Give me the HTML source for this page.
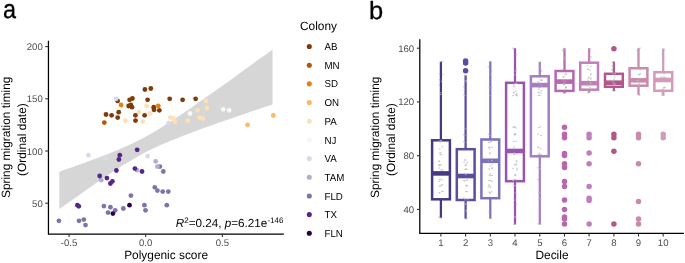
<!DOCTYPE html>
<html><head><meta charset="utf-8"><title>Figure</title>
<style>html,body{margin:0;padding:0;background:#fff}svg{display:block}svg text{font-family:"Liberation Sans",sans-serif;text-rendering:geometricPrecision}</style></head>
<body>
<svg width="685" height="263" viewBox="0 0 685 263">
<rect width="685" height="263" fill="#fff"/>
<text transform="translate(2.9,18.1) scale(0.9,1.0)" font-size="26" fill="#000" stroke="#000" stroke-width="0.3">a</text>
<polygon fill="#d6d6d6" points="59.3,171.7 64.6,169.8 70.0,168.0 75.3,166.1 80.6,164.2 85.9,162.3 91.3,160.3 96.6,158.3 101.9,156.3 107.3,154.2 112.6,152.1 117.9,149.9 123.3,147.6 128.6,145.2 133.9,142.7 139.2,140.0 144.6,137.2 149.9,134.3 155.2,131.2 160.6,127.9 165.9,124.6 171.2,121.2 176.6,117.6 181.9,114.1 187.2,110.4 192.6,106.8 197.9,103.1 203.2,99.3 208.5,95.6 213.9,91.8 219.2,88.0 224.5,84.2 229.9,80.4 235.2,76.5 240.5,72.7 245.9,68.8 251.2,65.0 256.5,61.1 261.8,57.3 267.2,53.4 272.5,49.5 272.5,104.4 267.2,106.2 261.8,108.0 256.5,109.8 251.2,111.6 245.9,113.4 240.5,115.3 235.2,117.1 229.9,118.9 224.5,120.8 219.2,122.6 213.9,124.5 208.5,126.4 203.2,128.3 197.9,130.3 192.6,132.2 187.2,134.2 181.9,136.3 176.6,138.4 171.2,140.5 165.9,142.8 160.6,145.1 155.2,147.5 149.9,150.1 144.6,152.8 139.2,155.7 133.9,158.7 128.6,161.9 123.3,165.1 117.9,168.5 112.6,172.0 107.3,175.5 101.9,179.1 96.6,182.8 91.3,186.5 85.9,190.2 80.6,193.9 75.3,197.7 70.0,201.5 64.6,205.3 59.3,209.1"/>
<circle cx="101.2" cy="180.2" r="2.4" fill="#b2abd2"/>
<circle cx="136.9" cy="170.1" r="2.4" fill="#b2abd2"/>
<circle cx="155.7" cy="161.3" r="2.4" fill="#b2abd2"/>
<circle cx="159.9" cy="166.6" r="2.4" fill="#8073ac"/>
<circle cx="157.4" cy="166.6" r="2.4" fill="#b2abd2"/>
<circle cx="163.3" cy="171.5" r="2.4" fill="#8073ac"/>
<circle cx="130.9" cy="195.6" r="2.4" fill="#8073ac"/>
<circle cx="103.9" cy="206.1" r="2.4" fill="#8073ac"/>
<circle cx="110.4" cy="207.2" r="2.4" fill="#8073ac"/>
<circle cx="115.2" cy="210.3" r="2.4" fill="#8073ac"/>
<circle cx="108.0" cy="212.6" r="2.4" fill="#8073ac"/>
<circle cx="123.3" cy="208.5" r="2.4" fill="#8073ac"/>
<circle cx="58.9" cy="220.8" r="2.4" fill="#8073ac"/>
<circle cx="79.0" cy="220.8" r="2.4" fill="#8073ac"/>
<circle cx="83.8" cy="219.6" r="2.4" fill="#8073ac"/>
<circle cx="85.5" cy="225.1" r="2.4" fill="#8073ac"/>
<circle cx="154.8" cy="187.3" r="2.4" fill="#8073ac"/>
<circle cx="157.4" cy="190.6" r="2.4" fill="#8073ac"/>
<circle cx="162.7" cy="191.6" r="2.4" fill="#8073ac"/>
<circle cx="168.3" cy="191.6" r="2.4" fill="#8073ac"/>
<circle cx="144.4" cy="205.2" r="2.4" fill="#8073ac"/>
<circle cx="145.5" cy="210.3" r="2.4" fill="#8073ac"/>
<circle cx="166.8" cy="205.2" r="2.4" fill="#8073ac"/>
<circle cx="112.9" cy="213.6" r="2.4" fill="#2d004b"/>
<circle cx="129.5" cy="205.2" r="2.4" fill="#2d004b"/>
<circle cx="119.8" cy="155.2" r="2.4" fill="#542788"/>
<circle cx="118.9" cy="159.5" r="2.4" fill="#542788"/>
<circle cx="116.4" cy="170.5" r="2.4" fill="#542788"/>
<circle cx="99.7" cy="176.0" r="2.4" fill="#542788"/>
<circle cx="106.9" cy="178.1" r="2.4" fill="#542788"/>
<circle cx="112.4" cy="181.3" r="2.4" fill="#542788"/>
<circle cx="110.4" cy="183.5" r="2.4" fill="#542788"/>
<circle cx="77.4" cy="205.2" r="2.4" fill="#542788"/>
<circle cx="78.8" cy="206.3" r="2.4" fill="#542788"/>
<circle cx="137.2" cy="149.8" r="2.4" fill="#542788"/>
<circle cx="134.9" cy="168.6" r="2.4" fill="#542788"/>
<circle cx="142.0" cy="171.5" r="2.4" fill="#542788"/>
<circle cx="88.4" cy="155.2" r="2.4" fill="#d8daeb"/>
<circle cx="105.6" cy="158.5" r="2.4" fill="#d8daeb"/>
<circle cx="147.6" cy="156.1" r="2.4" fill="#d8daeb"/>
<circle cx="146.6" cy="106.0" r="2.4" fill="#fee0b6"/>
<circle cx="138.8" cy="112.2" r="2.4" fill="#fee0b6"/>
<circle cx="150.2" cy="113.3" r="2.4" fill="#fee0b6"/>
<circle cx="125.4" cy="120.6" r="2.4" fill="#fee0b6"/>
<circle cx="142.8" cy="121.6" r="2.4" fill="#fee0b6"/>
<circle cx="170.3" cy="117.6" r="2.4" fill="#fee0b6"/>
<circle cx="173.4" cy="118.5" r="2.4" fill="#fee0b6"/>
<circle cx="175.1" cy="121.6" r="2.4" fill="#fee0b6"/>
<circle cx="206.1" cy="100.9" r="2.4" fill="#fee0b6"/>
<circle cx="207.0" cy="108.2" r="2.4" fill="#fee0b6"/>
<circle cx="197.6" cy="110.3" r="2.4" fill="#fee0b6"/>
<circle cx="199.5" cy="117.6" r="2.4" fill="#fee0b6"/>
<circle cx="202.9" cy="118.6" r="2.4" fill="#fee0b6"/>
<circle cx="187.8" cy="120.6" r="2.4" fill="#fee0b6"/>
<circle cx="168.7" cy="122.9" r="2.4" fill="#d8daeb"/>
<circle cx="190.0" cy="113.5" r="2.4" fill="#f7f7f7"/>
<circle cx="223.2" cy="109.3" r="2.4" fill="#f7f7f7"/>
<circle cx="229.2" cy="110.3" r="2.4" fill="#f7f7f7"/>
<circle cx="247.5" cy="124.8" r="2.4" fill="#fdb863"/>
<circle cx="273.3" cy="115.4" r="2.4" fill="#fdb863"/>
<circle cx="117.6" cy="100.9" r="2.4" fill="#7f3b08"/>
<circle cx="116.1" cy="98.8" r="2.4" fill="#d8daeb"/>
<circle cx="129.6" cy="99.8" r="2.4" fill="#7f3b08"/>
<circle cx="132.4" cy="98.5" r="2.4" fill="#7f3b08"/>
<circle cx="147.6" cy="99.8" r="2.4" fill="#7f3b08"/>
<circle cx="169.7" cy="98.8" r="2.4" fill="#7f3b08"/>
<circle cx="182.6" cy="99.8" r="2.4" fill="#7f3b08"/>
<circle cx="195.6" cy="98.8" r="2.4" fill="#7f3b08"/>
<circle cx="144.9" cy="89.5" r="2.4" fill="#7f3b08"/>
<circle cx="150.8" cy="88.5" r="2.4" fill="#7f3b08"/>
<circle cx="128.6" cy="106.0" r="2.4" fill="#7f3b08"/>
<circle cx="130.8" cy="104.8" r="2.4" fill="#7f3b08"/>
<circle cx="132.0" cy="107.2" r="2.4" fill="#7f3b08"/>
<circle cx="153.7" cy="107.2" r="2.4" fill="#7f3b08"/>
<circle cx="154.0" cy="109.8" r="2.4" fill="#7f3b08"/>
<circle cx="159.3" cy="110.3" r="2.4" fill="#7f3b08"/>
<circle cx="106.0" cy="114.5" r="2.4" fill="#7f3b08"/>
<circle cx="111.6" cy="115.3" r="2.4" fill="#7f3b08"/>
<circle cx="118.7" cy="112.2" r="2.4" fill="#7f3b08"/>
<circle cx="117.7" cy="117.6" r="2.4" fill="#7f3b08"/>
<circle cx="135.4" cy="115.3" r="2.4" fill="#7f3b08"/>
<circle cx="144.6" cy="115.3" r="2.4" fill="#7f3b08"/>
<circle cx="135.5" cy="120.6" r="2.4" fill="#7f3b08"/>
<circle cx="121.1" cy="105.0" r="2.4" fill="#e08214"/>
<circle cx="158.3" cy="106.0" r="2.4" fill="#e08214"/>
<circle cx="104.3" cy="122.6" r="2.4" fill="#b35806"/>
<path d="M48.45 40.7V234.0H283.8" fill="none" stroke="#000" stroke-width="1.25"/>
<path d="M45.25 46.6H48.45" stroke="#333" stroke-width="1.1"/>
<text transform="translate(42.75,50.1)" font-size="9.6" fill="#4d4d4d" text-anchor="end">200</text>
<path d="M45.25 98.8H48.45" stroke="#333" stroke-width="1.1"/>
<text transform="translate(42.75,102.3)" font-size="9.6" fill="#4d4d4d" text-anchor="end">150</text>
<path d="M45.25 151.0H48.45" stroke="#333" stroke-width="1.1"/>
<text transform="translate(42.75,154.5)" font-size="9.6" fill="#4d4d4d" text-anchor="end">100</text>
<path d="M45.25 203.2H48.45" stroke="#333" stroke-width="1.1"/>
<text transform="translate(42.75,206.7)" font-size="9.6" fill="#4d4d4d" text-anchor="end">50</text>
<path d="M69.1 234.0V237.1" stroke="#333" stroke-width="1.1"/>
<text transform="translate(69.1,246.4)" font-size="9.6" fill="#4d4d4d" text-anchor="middle">-0.5</text>
<path d="M145.65 234.0V237.1" stroke="#333" stroke-width="1.1"/>
<text transform="translate(145.65,246.4)" font-size="9.6" fill="#4d4d4d" text-anchor="middle">0.0</text>
<path d="M222.4 234.0V237.1" stroke="#333" stroke-width="1.1"/>
<text transform="translate(222.4,246.4)" font-size="9.6" fill="#4d4d4d" text-anchor="middle">0.5</text>
<text transform="translate(166.1,258.9) scale(0.99,1)" font-size="12.0" fill="#000" text-anchor="middle">Polygenic score</text>
<text transform="translate(10,137.3) rotate(-90) scale(0.99,1)" font-size="12.0" fill="#000" text-anchor="middle">Spring migration timing</text>
<text transform="translate(25.9,139.6) rotate(-90) scale(0.99,1)" font-size="12.0" fill="#000" text-anchor="middle">(Ordinal date)</text>
<text x="283.4" y="226.6" font-size="11.7" fill="#000" text-anchor="end"><tspan font-style="italic">R</tspan><tspan font-size="8" dy="-4.1">2</tspan><tspan dy="4.1">=0.24, </tspan><tspan font-style="italic">p</tspan>=6.21e<tspan font-size="8" dy="-4.1">-146</tspan></text>
<text transform="translate(300.0,30.1) scale(0.99,1)" font-size="12.0" fill="#000" text-anchor="start">Colony</text>
<circle cx="309.3" cy="46.50" r="2.55" fill="#7f3b08"/>
<text transform="translate(324.5,50.1) scale(0.965,1)" font-size="10.1" fill="#000" text-anchor="start">AB</text>
<circle cx="309.3" cy="65.18" r="2.55" fill="#b35806"/>
<text transform="translate(324.5,68.78) scale(0.965,1)" font-size="10.1" fill="#000" text-anchor="start">MN</text>
<circle cx="309.3" cy="83.86" r="2.55" fill="#e08214"/>
<text transform="translate(324.5,87.46) scale(0.965,1)" font-size="10.1" fill="#000" text-anchor="start">SD</text>
<circle cx="309.3" cy="102.54" r="2.55" fill="#fdb863"/>
<text transform="translate(324.5,106.14) scale(0.965,1)" font-size="10.1" fill="#000" text-anchor="start">ON</text>
<circle cx="309.3" cy="121.22" r="2.55" fill="#fee0b6"/>
<text transform="translate(324.5,124.82) scale(0.965,1)" font-size="10.1" fill="#000" text-anchor="start">PA</text>
<circle cx="309.3" cy="139.90" r="2.55" fill="#f7f7f7"/>
<text transform="translate(324.5,143.5) scale(0.965,1)" font-size="10.1" fill="#000" text-anchor="start">NJ</text>
<circle cx="309.3" cy="158.58" r="2.55" fill="#d8daeb"/>
<text transform="translate(324.5,162.18) scale(0.965,1)" font-size="10.1" fill="#000" text-anchor="start">VA</text>
<circle cx="309.3" cy="177.26" r="2.55" fill="#b2abd2"/>
<text transform="translate(324.5,180.86) scale(0.965,1)" font-size="10.1" fill="#000" text-anchor="start">TAM</text>
<circle cx="309.3" cy="195.94" r="2.55" fill="#8073ac"/>
<text transform="translate(324.5,199.54) scale(0.965,1)" font-size="10.1" fill="#000" text-anchor="start">FLD</text>
<circle cx="309.3" cy="214.62" r="2.55" fill="#542788"/>
<text transform="translate(324.5,218.22) scale(0.965,1)" font-size="10.1" fill="#000" text-anchor="start">TX</text>
<circle cx="309.3" cy="233.30" r="2.55" fill="#2d004b"/>
<text transform="translate(324.5,236.9) scale(0.965,1)" font-size="10.1" fill="#000" text-anchor="start">FLN</text>
<text transform="translate(369.1,19.4) scale(1.02,1.0)" font-size="25" fill="#000" stroke="#000" stroke-width="0.3">b</text>
<path d="M419.8 39.3V233.45H683.9" fill="none" stroke="#000" stroke-width="1.25"/>
<path d="M416.90000000000003 48.2H419.8" stroke="#333" stroke-width="1.1"/>
<text transform="translate(414.2,51.7)" font-size="9.6" fill="#4d4d4d" text-anchor="end">160</text>
<path d="M416.90000000000003 101.9H419.8" stroke="#333" stroke-width="1.1"/>
<text transform="translate(414.2,105.4)" font-size="9.6" fill="#4d4d4d" text-anchor="end">120</text>
<path d="M416.90000000000003 155.7H419.8" stroke="#333" stroke-width="1.1"/>
<text transform="translate(414.2,159.2)" font-size="9.6" fill="#4d4d4d" text-anchor="end">80</text>
<path d="M416.90000000000003 209.4H419.8" stroke="#333" stroke-width="1.1"/>
<text transform="translate(414.2,212.9)" font-size="9.6" fill="#4d4d4d" text-anchor="end">40</text>
<path d="M440.9 233.45V236.54999999999998" stroke="#333" stroke-width="1.1"/>
<text transform="translate(440.9,246.4)" font-size="9.6" fill="#4d4d4d" text-anchor="middle">1</text>
<path d="M465.6 233.45V236.54999999999998" stroke="#333" stroke-width="1.1"/>
<text transform="translate(465.6,246.4)" font-size="9.6" fill="#4d4d4d" text-anchor="middle">2</text>
<path d="M490.3 233.45V236.54999999999998" stroke="#333" stroke-width="1.1"/>
<text transform="translate(490.3,246.4)" font-size="9.6" fill="#4d4d4d" text-anchor="middle">3</text>
<path d="M515.0 233.45V236.54999999999998" stroke="#333" stroke-width="1.1"/>
<text transform="translate(515.0,246.4)" font-size="9.6" fill="#4d4d4d" text-anchor="middle">4</text>
<path d="M539.8 233.45V236.54999999999998" stroke="#333" stroke-width="1.1"/>
<text transform="translate(539.8,246.4)" font-size="9.6" fill="#4d4d4d" text-anchor="middle">5</text>
<path d="M564.5 233.45V236.54999999999998" stroke="#333" stroke-width="1.1"/>
<text transform="translate(564.5,246.4)" font-size="9.6" fill="#4d4d4d" text-anchor="middle">6</text>
<path d="M589.1 233.45V236.54999999999998" stroke="#333" stroke-width="1.1"/>
<text transform="translate(589.1,246.4)" font-size="9.6" fill="#4d4d4d" text-anchor="middle">7</text>
<path d="M613.9 233.45V236.54999999999998" stroke="#333" stroke-width="1.1"/>
<text transform="translate(613.9,246.4)" font-size="9.6" fill="#4d4d4d" text-anchor="middle">8</text>
<path d="M638.5 233.45V236.54999999999998" stroke="#333" stroke-width="1.1"/>
<text transform="translate(638.5,246.4)" font-size="9.6" fill="#4d4d4d" text-anchor="middle">9</text>
<path d="M663.2 233.45V236.54999999999998" stroke="#333" stroke-width="1.1"/>
<text transform="translate(663.2,246.4)" font-size="9.6" fill="#4d4d4d" text-anchor="middle">10</text>
<text transform="translate(552,258.9) scale(0.99,1)" font-size="12.0" fill="#000" text-anchor="middle">Decile</text>
<text transform="translate(379.2,137.3) rotate(-90) scale(0.99,1)" font-size="12.0" fill="#000" text-anchor="middle">Spring migration timing</text>
<text transform="translate(394.8,139.6) rotate(-90) scale(0.99,1)" font-size="12.0" fill="#000" text-anchor="middle">(Ordinal date)</text>
<g stroke="#443a84" fill="none" stroke-width="2.5">
<path d="M440.9 61.4V140.3M440.9 199.3V218.1" stroke-width="2.25"/>
<rect x="432.1" y="140.3" width="17.8" height="59.0" fill="#fff"/>
<path d="M432.1 173.4H449.8" stroke-width="4.6"/>
</g>
<g stroke="#5b4ea2" fill="none" stroke-width="2.5">
<path d="M465.6 75.2V149.2M465.6 200.0V218.7" stroke-width="2.25"/>
<rect x="456.8" y="149.2" width="17.8" height="50.8" fill="#fff"/>
<path d="M456.8 176.0H474.5" stroke-width="4.6"/>
</g>
<circle cx="465.6" cy="60.9" r="2.75" fill="#5b4ea2"/>
<circle cx="465.6" cy="63.0" r="2.75" fill="#5b4ea2"/>
<circle cx="465.6" cy="70.7" r="2.75" fill="#5b4ea2"/>
<g stroke="#7b72ba" fill="none" stroke-width="2.5">
<path d="M490.3 61.4V139.5M490.3 198.2V218.7" stroke-width="2.25"/>
<rect x="481.4" y="139.5" width="17.8" height="58.7" fill="#fff"/>
<path d="M481.4 160.8H499.2" stroke-width="4.6"/>
</g>
<g stroke="#9855b0" fill="none" stroke-width="2.5">
<path d="M515.0 48.2V82.8M515.0 181.2V224.5" stroke-width="2.25"/>
<rect x="506.1" y="82.8" width="17.8" height="98.4" fill="#fff"/>
<path d="M506.1 151.0H523.9" stroke-width="4.6"/>
</g>
<g stroke="#a67cc2" fill="none" stroke-width="2.5">
<path d="M539.8 62.0V76.3M539.8 156.3V224.5" stroke-width="2.25"/>
<rect x="530.9" y="76.3" width="17.8" height="80.0" fill="#fff"/>
<path d="M530.9 85.1H548.6" stroke-width="4.6"/>
</g>
<g stroke="#b766b0" fill="none" stroke-width="2.5">
<path d="M564.5 48.2V71.0M564.5 90.9V93.2" stroke-width="2.25"/>
<rect x="555.6" y="71.0" width="17.8" height="19.9" fill="#fff"/>
<path d="M555.6 81.6H573.4" stroke-width="4.6"/>
</g>
<circle cx="564.5" cy="127.2" r="2.75" fill="#b766b0"/>
<circle cx="564.5" cy="134.3" r="2.75" fill="#b766b0"/>
<circle cx="564.5" cy="137.8" r="2.75" fill="#b766b0"/>
<circle cx="564.5" cy="153.5" r="2.75" fill="#b766b0"/>
<circle cx="564.5" cy="155.5" r="2.75" fill="#b766b0"/>
<circle cx="564.5" cy="163.8" r="2.75" fill="#b766b0"/>
<circle cx="564.5" cy="167.6" r="2.75" fill="#b766b0"/>
<circle cx="564.5" cy="181.4" r="2.75" fill="#b766b0"/>
<circle cx="564.5" cy="186.5" r="2.75" fill="#b766b0"/>
<circle cx="564.5" cy="199.9" r="2.75" fill="#b766b0"/>
<circle cx="564.5" cy="209.4" r="2.75" fill="#b766b0"/>
<circle cx="564.5" cy="217.1" r="2.75" fill="#b766b0"/>
<circle cx="564.5" cy="219.1" r="2.75" fill="#b766b0"/>
<circle cx="564.5" cy="224.1" r="2.75" fill="#b766b0"/>
<g stroke="#c07fba" fill="none" stroke-width="2.5">
<path d="M589.1 48.2V62.7M589.1 89.7V92.8" stroke-width="2.25"/>
<rect x="580.2" y="62.7" width="17.8" height="27.0" fill="#fff"/>
<path d="M580.2 83.2H598.0" stroke-width="4.6"/>
</g>
<circle cx="589.1" cy="134.3" r="2.75" fill="#c07fba"/>
<circle cx="589.1" cy="137.8" r="2.75" fill="#c07fba"/>
<circle cx="589.1" cy="153.0" r="2.75" fill="#c07fba"/>
<circle cx="589.1" cy="163.8" r="2.75" fill="#c07fba"/>
<circle cx="589.1" cy="186.5" r="2.75" fill="#c07fba"/>
<circle cx="589.1" cy="198.3" r="2.75" fill="#c07fba"/>
<circle cx="589.1" cy="200.6" r="2.75" fill="#c07fba"/>
<circle cx="589.1" cy="224.1" r="2.75" fill="#c07fba"/>
<g stroke="#b0588a" fill="none" stroke-width="2.5">
<path d="M613.9 61.6V73.8M613.9 86.8V91.3" stroke-width="2.25"/>
<rect x="605.0" y="73.8" width="17.8" height="13.0" fill="#fff"/>
<path d="M605.0 82.7H622.8" stroke-width="4.6"/>
</g>
<circle cx="613.9" cy="48.8" r="2.75" fill="#b0588a"/>
<circle cx="613.9" cy="134.3" r="2.75" fill="#b0588a"/>
<circle cx="613.9" cy="137.8" r="2.75" fill="#b0588a"/>
<circle cx="613.9" cy="151.3" r="2.75" fill="#b0588a"/>
<circle cx="613.9" cy="224.1" r="2.75" fill="#b0588a"/>
<g stroke="#c98aab" fill="none" stroke-width="2.5">
<path d="M638.5 48.2V68.2M638.5 85.7V95.0" stroke-width="2.25"/>
<rect x="629.6" y="68.2" width="17.8" height="17.5" fill="#fff"/>
<path d="M629.6 80.3H647.4" stroke-width="4.6"/>
</g>
<circle cx="638.5" cy="134.3" r="2.75" fill="#c98aab"/>
<circle cx="638.5" cy="137.8" r="2.75" fill="#c98aab"/>
<circle cx="638.5" cy="163.8" r="2.75" fill="#c98aab"/>
<circle cx="638.5" cy="201.4" r="2.75" fill="#c98aab"/>
<circle cx="638.5" cy="218.9" r="2.75" fill="#c98aab"/>
<circle cx="638.5" cy="224.1" r="2.75" fill="#c98aab"/>
<g stroke="#d29bba" fill="none" stroke-width="2.5">
<path d="M663.2 49.0V72.2M663.2 90.8V95.5" stroke-width="2.25"/>
<rect x="654.4" y="72.2" width="17.8" height="18.6" fill="#fff"/>
<path d="M654.4 80.0H672.1" stroke-width="4.6"/>
</g>
<circle cx="663.2" cy="134.3" r="2.75" fill="#d29bba"/>
<circle cx="663.2" cy="137.8" r="2.75" fill="#d29bba"/>
<rect x="440.0" y="61.3" width="1.6" height="1" fill="#b4b4b4" opacity="0.8"/>
<rect x="441.7" y="61.2" width="1.6" height="1" fill="#b4b4b4" opacity="0.8"/>
<rect x="440.2" y="217.4" width="1.6" height="1" fill="#b4b4b4" opacity="0.8"/>
<rect x="439.0" y="217.3" width="1.6" height="1" fill="#b4b4b4" opacity="0.8"/>
<rect x="438.6" y="73.6" width="1.6" height="1" fill="#b4b4b4" opacity="0.8"/>
<rect x="441.8" y="73.8" width="1.6" height="1" fill="#b4b4b4" opacity="0.8"/>
<rect x="440.8" y="80.8" width="1.6" height="1" fill="#b4b4b4" opacity="0.8"/>
<rect x="438.7" y="79.3" width="1.6" height="1" fill="#b4b4b4" opacity="0.8"/>
<rect x="438.2" y="84.4" width="1.6" height="1" fill="#b4b4b4" opacity="0.8"/>
<rect x="440.2" y="92.3" width="1.6" height="1" fill="#b4b4b4" opacity="0.8"/>
<rect x="440.0" y="94.0" width="1.6" height="1" fill="#b4b4b4" opacity="0.8"/>
<rect x="439.1" y="141.6" width="1.6" height="1" fill="#b4b4b4" opacity="0.8"/>
<rect x="440.2" y="139.9" width="1.6" height="1" fill="#b4b4b4" opacity="0.8"/>
<rect x="440.4" y="140.1" width="1.6" height="1" fill="#b4b4b4" opacity="0.8"/>
<rect x="438.5" y="140.5" width="1.6" height="1" fill="#b4b4b4" opacity="0.8"/>
<rect x="441.6" y="146.3" width="1.6" height="1" fill="#b4b4b4" opacity="0.8"/>
<rect x="438.9" y="148.5" width="1.6" height="1" fill="#b4b4b4" opacity="0.8"/>
<rect x="439.7" y="152.3" width="1.6" height="1" fill="#b4b4b4" opacity="0.8"/>
<rect x="440.7" y="154.0" width="1.6" height="1" fill="#b4b4b4" opacity="0.8"/>
<rect x="439.2" y="152.3" width="1.6" height="1" fill="#b4b4b4" opacity="0.8"/>
<rect x="439.4" y="154.4" width="1.6" height="1" fill="#b4b4b4" opacity="0.8"/>
<rect x="438.6" y="161.0" width="1.6" height="1" fill="#b4b4b4" opacity="0.8"/>
<rect x="438.1" y="160.4" width="1.6" height="1" fill="#b4b4b4" opacity="0.8"/>
<rect x="440.4" y="164.4" width="1.6" height="1" fill="#b4b4b4" opacity="0.8"/>
<rect x="438.9" y="165.1" width="1.6" height="1" fill="#b4b4b4" opacity="0.8"/>
<rect x="438.6" y="164.8" width="1.6" height="1" fill="#b4b4b4" opacity="0.8"/>
<rect x="438.5" y="164.3" width="1.6" height="1" fill="#b4b4b4" opacity="0.8"/>
<rect x="441.7" y="169.4" width="1.6" height="1" fill="#b4b4b4" opacity="0.8"/>
<rect x="440.5" y="169.5" width="1.6" height="1" fill="#b4b4b4" opacity="0.8"/>
<rect x="438.1" y="167.5" width="1.6" height="1" fill="#b4b4b4" opacity="0.8"/>
<rect x="438.5" y="181.0" width="1.6" height="1" fill="#b4b4b4" opacity="0.8"/>
<rect x="438.9" y="179.2" width="1.6" height="1" fill="#b4b4b4" opacity="0.8"/>
<rect x="441.3" y="179.4" width="1.6" height="1" fill="#b4b4b4" opacity="0.8"/>
<rect x="439.3" y="178.8" width="1.6" height="1" fill="#b4b4b4" opacity="0.8"/>
<rect x="440.7" y="184.3" width="1.6" height="1" fill="#b4b4b4" opacity="0.8"/>
<rect x="439.6" y="185.8" width="1.6" height="1" fill="#b4b4b4" opacity="0.8"/>
<rect x="438.6" y="185.7" width="1.6" height="1" fill="#b4b4b4" opacity="0.8"/>
<rect x="441.5" y="184.6" width="1.6" height="1" fill="#b4b4b4" opacity="0.8"/>
<rect x="438.7" y="192.5" width="1.6" height="1" fill="#b4b4b4" opacity="0.8"/>
<rect x="441.5" y="190.9" width="1.6" height="1" fill="#b4b4b4" opacity="0.8"/>
<rect x="438.8" y="192.1" width="1.6" height="1" fill="#b4b4b4" opacity="0.8"/>
<rect x="442.0" y="190.8" width="1.6" height="1" fill="#b4b4b4" opacity="0.8"/>
<rect x="438.5" y="216.5" width="1.6" height="1" fill="#b4b4b4" opacity="0.8"/>
<rect x="464.0" y="75.3" width="1.6" height="1" fill="#b4b4b4" opacity="0.8"/>
<rect x="464.5" y="74.9" width="1.6" height="1" fill="#b4b4b4" opacity="0.8"/>
<rect x="466.3" y="217.9" width="1.6" height="1" fill="#b4b4b4" opacity="0.8"/>
<rect x="464.9" y="218.4" width="1.6" height="1" fill="#b4b4b4" opacity="0.8"/>
<rect x="465.1" y="81.3" width="1.6" height="1" fill="#b4b4b4" opacity="0.8"/>
<rect x="465.3" y="80.0" width="1.6" height="1" fill="#b4b4b4" opacity="0.8"/>
<rect x="463.0" y="86.3" width="1.6" height="1" fill="#b4b4b4" opacity="0.8"/>
<rect x="463.5" y="89.2" width="1.6" height="1" fill="#b4b4b4" opacity="0.8"/>
<rect x="463.3" y="94.4" width="1.6" height="1" fill="#b4b4b4" opacity="0.8"/>
<rect x="464.1" y="95.1" width="1.6" height="1" fill="#b4b4b4" opacity="0.8"/>
<rect x="465.2" y="128.2" width="1.6" height="1" fill="#b4b4b4" opacity="0.8"/>
<rect x="465.7" y="135.1" width="1.6" height="1" fill="#b4b4b4" opacity="0.8"/>
<rect x="462.8" y="134.3" width="1.6" height="1" fill="#b4b4b4" opacity="0.8"/>
<rect x="464.1" y="142.2" width="1.6" height="1" fill="#b4b4b4" opacity="0.8"/>
<rect x="463.1" y="141.1" width="1.6" height="1" fill="#b4b4b4" opacity="0.8"/>
<rect x="463.3" y="161.6" width="1.6" height="1" fill="#b4b4b4" opacity="0.8"/>
<rect x="464.2" y="159.5" width="1.6" height="1" fill="#b4b4b4" opacity="0.8"/>
<rect x="464.7" y="159.5" width="1.6" height="1" fill="#b4b4b4" opacity="0.8"/>
<rect x="466.4" y="161.6" width="1.6" height="1" fill="#b4b4b4" opacity="0.8"/>
<rect x="465.2" y="164.8" width="1.6" height="1" fill="#b4b4b4" opacity="0.8"/>
<rect x="464.4" y="164.7" width="1.6" height="1" fill="#b4b4b4" opacity="0.8"/>
<rect x="465.3" y="163.5" width="1.6" height="1" fill="#b4b4b4" opacity="0.8"/>
<rect x="466.4" y="168.8" width="1.6" height="1" fill="#b4b4b4" opacity="0.8"/>
<rect x="464.4" y="168.9" width="1.6" height="1" fill="#b4b4b4" opacity="0.8"/>
<rect x="465.2" y="168.2" width="1.6" height="1" fill="#b4b4b4" opacity="0.8"/>
<rect x="464.9" y="174.1" width="1.6" height="1" fill="#b4b4b4" opacity="0.8"/>
<rect x="464.1" y="173.1" width="1.6" height="1" fill="#b4b4b4" opacity="0.8"/>
<rect x="463.2" y="180.5" width="1.6" height="1" fill="#b4b4b4" opacity="0.8"/>
<rect x="465.5" y="179.8" width="1.6" height="1" fill="#b4b4b4" opacity="0.8"/>
<rect x="466.5" y="179.5" width="1.6" height="1" fill="#b4b4b4" opacity="0.8"/>
<rect x="463.4" y="180.1" width="1.6" height="1" fill="#b4b4b4" opacity="0.8"/>
<rect x="465.5" y="185.4" width="1.6" height="1" fill="#b4b4b4" opacity="0.8"/>
<rect x="466.5" y="185.1" width="1.6" height="1" fill="#b4b4b4" opacity="0.8"/>
<rect x="465.5" y="184.8" width="1.6" height="1" fill="#b4b4b4" opacity="0.8"/>
<rect x="466.4" y="191.2" width="1.6" height="1" fill="#b4b4b4" opacity="0.8"/>
<rect x="465.2" y="191.1" width="1.6" height="1" fill="#b4b4b4" opacity="0.8"/>
<rect x="464.2" y="199.4" width="1.6" height="1" fill="#b4b4b4" opacity="0.8"/>
<rect x="462.9" y="197.5" width="1.6" height="1" fill="#b4b4b4" opacity="0.8"/>
<rect x="466.9" y="199.3" width="1.6" height="1" fill="#b4b4b4" opacity="0.8"/>
<rect x="463.9" y="202.8" width="1.6" height="1" fill="#b4b4b4" opacity="0.8"/>
<rect x="464.5" y="203.8" width="1.6" height="1" fill="#b4b4b4" opacity="0.8"/>
<rect x="465.8" y="211.3" width="1.6" height="1" fill="#b4b4b4" opacity="0.8"/>
<rect x="465.4" y="210.1" width="1.6" height="1" fill="#b4b4b4" opacity="0.8"/>
<rect x="488.8" y="61.3" width="1.6" height="1" fill="#b4b4b4" opacity="0.8"/>
<rect x="490.2" y="60.9" width="1.6" height="1" fill="#b4b4b4" opacity="0.8"/>
<rect x="489.0" y="218.1" width="1.6" height="1" fill="#b4b4b4" opacity="0.8"/>
<rect x="489.8" y="218.1" width="1.6" height="1" fill="#b4b4b4" opacity="0.8"/>
<rect x="487.6" y="66.3" width="1.6" height="1" fill="#b4b4b4" opacity="0.8"/>
<rect x="490.8" y="70.7" width="1.6" height="1" fill="#b4b4b4" opacity="0.8"/>
<rect x="490.1" y="73.9" width="1.6" height="1" fill="#b4b4b4" opacity="0.8"/>
<rect x="488.5" y="87.0" width="1.6" height="1" fill="#b4b4b4" opacity="0.8"/>
<rect x="490.6" y="86.6" width="1.6" height="1" fill="#b4b4b4" opacity="0.8"/>
<rect x="488.6" y="89.1" width="1.6" height="1" fill="#b4b4b4" opacity="0.8"/>
<rect x="489.1" y="95.2" width="1.6" height="1" fill="#b4b4b4" opacity="0.8"/>
<rect x="488.0" y="133.9" width="1.6" height="1" fill="#b4b4b4" opacity="0.8"/>
<rect x="490.1" y="135.0" width="1.6" height="1" fill="#b4b4b4" opacity="0.8"/>
<rect x="490.2" y="141.0" width="1.6" height="1" fill="#b4b4b4" opacity="0.8"/>
<rect x="490.9" y="140.6" width="1.6" height="1" fill="#b4b4b4" opacity="0.8"/>
<rect x="488.8" y="142.2" width="1.6" height="1" fill="#b4b4b4" opacity="0.8"/>
<rect x="487.9" y="141.9" width="1.6" height="1" fill="#b4b4b4" opacity="0.8"/>
<rect x="488.0" y="146.9" width="1.6" height="1" fill="#b4b4b4" opacity="0.8"/>
<rect x="489.1" y="146.5" width="1.6" height="1" fill="#b4b4b4" opacity="0.8"/>
<rect x="488.8" y="148.6" width="1.6" height="1" fill="#b4b4b4" opacity="0.8"/>
<rect x="491.4" y="146.9" width="1.6" height="1" fill="#b4b4b4" opacity="0.8"/>
<rect x="488.9" y="152.3" width="1.6" height="1" fill="#b4b4b4" opacity="0.8"/>
<rect x="489.3" y="153.4" width="1.6" height="1" fill="#b4b4b4" opacity="0.8"/>
<rect x="491.3" y="159.8" width="1.6" height="1" fill="#b4b4b4" opacity="0.8"/>
<rect x="491.1" y="160.3" width="1.6" height="1" fill="#b4b4b4" opacity="0.8"/>
<rect x="487.6" y="160.6" width="1.6" height="1" fill="#b4b4b4" opacity="0.8"/>
<rect x="489.4" y="165.7" width="1.6" height="1" fill="#b4b4b4" opacity="0.8"/>
<rect x="491.2" y="164.5" width="1.6" height="1" fill="#b4b4b4" opacity="0.8"/>
<rect x="491.4" y="168.3" width="1.6" height="1" fill="#b4b4b4" opacity="0.8"/>
<rect x="491.4" y="167.3" width="1.6" height="1" fill="#b4b4b4" opacity="0.8"/>
<rect x="488.4" y="168.4" width="1.6" height="1" fill="#b4b4b4" opacity="0.8"/>
<rect x="489.8" y="173.3" width="1.6" height="1" fill="#b4b4b4" opacity="0.8"/>
<rect x="489.6" y="175.1" width="1.6" height="1" fill="#b4b4b4" opacity="0.8"/>
<rect x="488.5" y="174.5" width="1.6" height="1" fill="#b4b4b4" opacity="0.8"/>
<rect x="491.5" y="175.0" width="1.6" height="1" fill="#b4b4b4" opacity="0.8"/>
<rect x="491.0" y="180.9" width="1.6" height="1" fill="#b4b4b4" opacity="0.8"/>
<rect x="489.7" y="180.0" width="1.6" height="1" fill="#b4b4b4" opacity="0.8"/>
<rect x="488.3" y="179.9" width="1.6" height="1" fill="#b4b4b4" opacity="0.8"/>
<rect x="489.0" y="185.6" width="1.6" height="1" fill="#b4b4b4" opacity="0.8"/>
<rect x="487.6" y="186.5" width="1.6" height="1" fill="#b4b4b4" opacity="0.8"/>
<rect x="489.7" y="186.7" width="1.6" height="1" fill="#b4b4b4" opacity="0.8"/>
<rect x="488.0" y="184.5" width="1.6" height="1" fill="#b4b4b4" opacity="0.8"/>
<rect x="489.4" y="192.5" width="1.6" height="1" fill="#b4b4b4" opacity="0.8"/>
<rect x="490.8" y="191.3" width="1.6" height="1" fill="#b4b4b4" opacity="0.8"/>
<rect x="488.5" y="191.5" width="1.6" height="1" fill="#b4b4b4" opacity="0.8"/>
<rect x="488.9" y="192.5" width="1.6" height="1" fill="#b4b4b4" opacity="0.8"/>
<rect x="488.3" y="210.8" width="1.6" height="1" fill="#b4b4b4" opacity="0.8"/>
<rect x="512.9" y="48.3" width="1.6" height="1" fill="#b4b4b4" opacity="0.8"/>
<rect x="512.5" y="47.6" width="1.6" height="1" fill="#b4b4b4" opacity="0.8"/>
<rect x="513.3" y="223.9" width="1.6" height="1" fill="#b4b4b4" opacity="0.8"/>
<rect x="513.6" y="223.5" width="1.6" height="1" fill="#b4b4b4" opacity="0.8"/>
<rect x="515.7" y="53.8" width="1.6" height="1" fill="#b4b4b4" opacity="0.8"/>
<rect x="515.6" y="69.8" width="1.6" height="1" fill="#b4b4b4" opacity="0.8"/>
<rect x="514.4" y="70.4" width="1.6" height="1" fill="#b4b4b4" opacity="0.8"/>
<rect x="514.4" y="74.3" width="1.6" height="1" fill="#b4b4b4" opacity="0.8"/>
<rect x="514.8" y="83.1" width="1.6" height="1" fill="#b4b4b4" opacity="0.8"/>
<rect x="512.9" y="83.7" width="1.6" height="1" fill="#b4b4b4" opacity="0.8"/>
<rect x="515.9" y="82.8" width="1.6" height="1" fill="#b4b4b4" opacity="0.8"/>
<rect x="515.4" y="82.8" width="1.6" height="1" fill="#b4b4b4" opacity="0.8"/>
<rect x="512.7" y="85.5" width="1.6" height="1" fill="#b4b4b4" opacity="0.8"/>
<rect x="513.8" y="86.3" width="1.6" height="1" fill="#b4b4b4" opacity="0.8"/>
<rect x="512.7" y="91.8" width="1.6" height="1" fill="#b4b4b4" opacity="0.8"/>
<rect x="515.0" y="90.8" width="1.6" height="1" fill="#b4b4b4" opacity="0.8"/>
<rect x="513.0" y="92.4" width="1.6" height="1" fill="#b4b4b4" opacity="0.8"/>
<rect x="516.0" y="93.1" width="1.6" height="1" fill="#b4b4b4" opacity="0.8"/>
<rect x="514.8" y="94.1" width="1.6" height="1" fill="#b4b4b4" opacity="0.8"/>
<rect x="516.3" y="95.3" width="1.6" height="1" fill="#b4b4b4" opacity="0.8"/>
<rect x="515.5" y="94.5" width="1.6" height="1" fill="#b4b4b4" opacity="0.8"/>
<rect x="512.3" y="95.1" width="1.6" height="1" fill="#b4b4b4" opacity="0.8"/>
<rect x="514.2" y="126.5" width="1.6" height="1" fill="#b4b4b4" opacity="0.8"/>
<rect x="512.6" y="126.4" width="1.6" height="1" fill="#b4b4b4" opacity="0.8"/>
<rect x="512.8" y="126.7" width="1.6" height="1" fill="#b4b4b4" opacity="0.8"/>
<rect x="515.0" y="127.4" width="1.6" height="1" fill="#b4b4b4" opacity="0.8"/>
<rect x="514.1" y="134.6" width="1.6" height="1" fill="#b4b4b4" opacity="0.8"/>
<rect x="513.5" y="133.9" width="1.6" height="1" fill="#b4b4b4" opacity="0.8"/>
<rect x="514.3" y="133.8" width="1.6" height="1" fill="#b4b4b4" opacity="0.8"/>
<rect x="514.7" y="132.8" width="1.6" height="1" fill="#b4b4b4" opacity="0.8"/>
<rect x="512.9" y="140.9" width="1.6" height="1" fill="#b4b4b4" opacity="0.8"/>
<rect x="515.3" y="140.8" width="1.6" height="1" fill="#b4b4b4" opacity="0.8"/>
<rect x="512.5" y="148.2" width="1.6" height="1" fill="#b4b4b4" opacity="0.8"/>
<rect x="513.5" y="146.5" width="1.6" height="1" fill="#b4b4b4" opacity="0.8"/>
<rect x="516.1" y="153.5" width="1.6" height="1" fill="#b4b4b4" opacity="0.8"/>
<rect x="513.0" y="153.5" width="1.6" height="1" fill="#b4b4b4" opacity="0.8"/>
<rect x="513.6" y="153.9" width="1.6" height="1" fill="#b4b4b4" opacity="0.8"/>
<rect x="513.3" y="152.4" width="1.6" height="1" fill="#b4b4b4" opacity="0.8"/>
<rect x="515.6" y="160.3" width="1.6" height="1" fill="#b4b4b4" opacity="0.8"/>
<rect x="515.9" y="161.4" width="1.6" height="1" fill="#b4b4b4" opacity="0.8"/>
<rect x="515.4" y="164.3" width="1.6" height="1" fill="#b4b4b4" opacity="0.8"/>
<rect x="515.2" y="163.5" width="1.6" height="1" fill="#b4b4b4" opacity="0.8"/>
<rect x="513.6" y="164.4" width="1.6" height="1" fill="#b4b4b4" opacity="0.8"/>
<rect x="516.3" y="169.3" width="1.6" height="1" fill="#b4b4b4" opacity="0.8"/>
<rect x="512.4" y="167.8" width="1.6" height="1" fill="#b4b4b4" opacity="0.8"/>
<rect x="516.2" y="167.8" width="1.6" height="1" fill="#b4b4b4" opacity="0.8"/>
<rect x="514.5" y="174.2" width="1.6" height="1" fill="#b4b4b4" opacity="0.8"/>
<rect x="513.8" y="175.3" width="1.6" height="1" fill="#b4b4b4" opacity="0.8"/>
<rect x="514.8" y="174.6" width="1.6" height="1" fill="#b4b4b4" opacity="0.8"/>
<rect x="512.2" y="180.1" width="1.6" height="1" fill="#b4b4b4" opacity="0.8"/>
<rect x="515.3" y="179.2" width="1.6" height="1" fill="#b4b4b4" opacity="0.8"/>
<rect x="513.8" y="178.7" width="1.6" height="1" fill="#b4b4b4" opacity="0.8"/>
<rect x="513.0" y="179.5" width="1.6" height="1" fill="#b4b4b4" opacity="0.8"/>
<rect x="513.3" y="185.1" width="1.6" height="1" fill="#b4b4b4" opacity="0.8"/>
<rect x="514.4" y="185.3" width="1.6" height="1" fill="#b4b4b4" opacity="0.8"/>
<rect x="514.8" y="192.2" width="1.6" height="1" fill="#b4b4b4" opacity="0.8"/>
<rect x="513.8" y="199.6" width="1.6" height="1" fill="#b4b4b4" opacity="0.8"/>
<rect x="515.7" y="203.6" width="1.6" height="1" fill="#b4b4b4" opacity="0.8"/>
<rect x="513.9" y="216.6" width="1.6" height="1" fill="#b4b4b4" opacity="0.8"/>
<rect x="514.7" y="216.2" width="1.6" height="1" fill="#b4b4b4" opacity="0.8"/>
<rect x="538.2" y="62.0" width="1.6" height="1" fill="#b4b4b4" opacity="0.8"/>
<rect x="539.2" y="61.5" width="1.6" height="1" fill="#b4b4b4" opacity="0.8"/>
<rect x="539.7" y="223.5" width="1.6" height="1" fill="#b4b4b4" opacity="0.8"/>
<rect x="537.2" y="223.4" width="1.6" height="1" fill="#b4b4b4" opacity="0.8"/>
<rect x="538.6" y="65.9" width="1.6" height="1" fill="#b4b4b4" opacity="0.8"/>
<rect x="540.0" y="68.4" width="1.6" height="1" fill="#b4b4b4" opacity="0.8"/>
<rect x="541.0" y="70.6" width="1.6" height="1" fill="#b4b4b4" opacity="0.8"/>
<rect x="538.7" y="73.4" width="1.6" height="1" fill="#b4b4b4" opacity="0.8"/>
<rect x="537.3" y="81.2" width="1.6" height="1" fill="#b4b4b4" opacity="0.8"/>
<rect x="540.7" y="79.6" width="1.6" height="1" fill="#b4b4b4" opacity="0.8"/>
<rect x="540.9" y="79.9" width="1.6" height="1" fill="#b4b4b4" opacity="0.8"/>
<rect x="539.8" y="79.4" width="1.6" height="1" fill="#b4b4b4" opacity="0.8"/>
<rect x="537.7" y="82.4" width="1.6" height="1" fill="#b4b4b4" opacity="0.8"/>
<rect x="539.1" y="82.6" width="1.6" height="1" fill="#b4b4b4" opacity="0.8"/>
<rect x="538.6" y="86.7" width="1.6" height="1" fill="#b4b4b4" opacity="0.8"/>
<rect x="539.5" y="86.9" width="1.6" height="1" fill="#b4b4b4" opacity="0.8"/>
<rect x="538.4" y="87.1" width="1.6" height="1" fill="#b4b4b4" opacity="0.8"/>
<rect x="540.3" y="85.6" width="1.6" height="1" fill="#b4b4b4" opacity="0.8"/>
<rect x="537.9" y="88.6" width="1.6" height="1" fill="#b4b4b4" opacity="0.8"/>
<rect x="540.6" y="90.2" width="1.6" height="1" fill="#b4b4b4" opacity="0.8"/>
<rect x="538.0" y="92.3" width="1.6" height="1" fill="#b4b4b4" opacity="0.8"/>
<rect x="539.9" y="92.5" width="1.6" height="1" fill="#b4b4b4" opacity="0.8"/>
<rect x="537.6" y="91.5" width="1.6" height="1" fill="#b4b4b4" opacity="0.8"/>
<rect x="539.0" y="94.9" width="1.6" height="1" fill="#b4b4b4" opacity="0.8"/>
<rect x="537.7" y="94.9" width="1.6" height="1" fill="#b4b4b4" opacity="0.8"/>
<rect x="538.0" y="127.0" width="1.6" height="1" fill="#b4b4b4" opacity="0.8"/>
<rect x="539.5" y="126.2" width="1.6" height="1" fill="#b4b4b4" opacity="0.8"/>
<rect x="540.0" y="135.0" width="1.6" height="1" fill="#b4b4b4" opacity="0.8"/>
<rect x="537.5" y="133.4" width="1.6" height="1" fill="#b4b4b4" opacity="0.8"/>
<rect x="537.7" y="147.1" width="1.6" height="1" fill="#b4b4b4" opacity="0.8"/>
<rect x="540.0" y="148.3" width="1.6" height="1" fill="#b4b4b4" opacity="0.8"/>
<rect x="537.2" y="146.6" width="1.6" height="1" fill="#b4b4b4" opacity="0.8"/>
<rect x="540.4" y="153.9" width="1.6" height="1" fill="#b4b4b4" opacity="0.8"/>
<rect x="538.7" y="153.9" width="1.6" height="1" fill="#b4b4b4" opacity="0.8"/>
<rect x="538.5" y="152.5" width="1.6" height="1" fill="#b4b4b4" opacity="0.8"/>
<rect x="537.5" y="154.1" width="1.6" height="1" fill="#b4b4b4" opacity="0.8"/>
<rect x="538.6" y="164.2" width="1.6" height="1" fill="#b4b4b4" opacity="0.8"/>
<rect x="537.2" y="167.3" width="1.6" height="1" fill="#b4b4b4" opacity="0.8"/>
<rect x="539.2" y="168.3" width="1.6" height="1" fill="#b4b4b4" opacity="0.8"/>
<rect x="537.2" y="179.1" width="1.6" height="1" fill="#b4b4b4" opacity="0.8"/>
<rect x="538.9" y="192.1" width="1.6" height="1" fill="#b4b4b4" opacity="0.8"/>
<rect x="538.2" y="192.4" width="1.6" height="1" fill="#b4b4b4" opacity="0.8"/>
<rect x="538.4" y="197.6" width="1.6" height="1" fill="#b4b4b4" opacity="0.8"/>
<rect x="539.8" y="198.7" width="1.6" height="1" fill="#b4b4b4" opacity="0.8"/>
<rect x="563.4" y="48.4" width="1.6" height="1" fill="#b4b4b4" opacity="0.8"/>
<rect x="562.9" y="47.8" width="1.6" height="1" fill="#b4b4b4" opacity="0.8"/>
<rect x="563.3" y="92.9" width="1.6" height="1" fill="#b4b4b4" opacity="0.8"/>
<rect x="565.1" y="92.1" width="1.6" height="1" fill="#b4b4b4" opacity="0.8"/>
<rect x="561.7" y="49.9" width="1.6" height="1" fill="#b4b4b4" opacity="0.8"/>
<rect x="564.0" y="50.2" width="1.6" height="1" fill="#b4b4b4" opacity="0.8"/>
<rect x="563.8" y="58.3" width="1.6" height="1" fill="#b4b4b4" opacity="0.8"/>
<rect x="563.9" y="56.7" width="1.6" height="1" fill="#b4b4b4" opacity="0.8"/>
<rect x="562.5" y="68.4" width="1.6" height="1" fill="#b4b4b4" opacity="0.8"/>
<rect x="565.6" y="73.9" width="1.6" height="1" fill="#b4b4b4" opacity="0.8"/>
<rect x="564.9" y="72.5" width="1.6" height="1" fill="#b4b4b4" opacity="0.8"/>
<rect x="563.8" y="74.2" width="1.6" height="1" fill="#b4b4b4" opacity="0.8"/>
<rect x="562.7" y="76.6" width="1.6" height="1" fill="#b4b4b4" opacity="0.8"/>
<rect x="562.9" y="76.4" width="1.6" height="1" fill="#b4b4b4" opacity="0.8"/>
<rect x="564.7" y="80.9" width="1.6" height="1" fill="#b4b4b4" opacity="0.8"/>
<rect x="562.6" y="79.8" width="1.6" height="1" fill="#b4b4b4" opacity="0.8"/>
<rect x="563.0" y="83.4" width="1.6" height="1" fill="#b4b4b4" opacity="0.8"/>
<rect x="563.0" y="84.2" width="1.6" height="1" fill="#b4b4b4" opacity="0.8"/>
<rect x="562.9" y="82.6" width="1.6" height="1" fill="#b4b4b4" opacity="0.8"/>
<rect x="563.6" y="84.2" width="1.6" height="1" fill="#b4b4b4" opacity="0.8"/>
<rect x="565.4" y="86.3" width="1.6" height="1" fill="#b4b4b4" opacity="0.8"/>
<rect x="565.0" y="86.9" width="1.6" height="1" fill="#b4b4b4" opacity="0.8"/>
<rect x="565.1" y="87.2" width="1.6" height="1" fill="#b4b4b4" opacity="0.8"/>
<rect x="565.1" y="87.4" width="1.6" height="1" fill="#b4b4b4" opacity="0.8"/>
<rect x="588.9" y="48.0" width="1.6" height="1" fill="#b4b4b4" opacity="0.8"/>
<rect x="589.1" y="48.4" width="1.6" height="1" fill="#b4b4b4" opacity="0.8"/>
<rect x="588.1" y="91.9" width="1.6" height="1" fill="#b4b4b4" opacity="0.8"/>
<rect x="587.1" y="92.3" width="1.6" height="1" fill="#b4b4b4" opacity="0.8"/>
<rect x="587.6" y="53.2" width="1.6" height="1" fill="#b4b4b4" opacity="0.8"/>
<rect x="590.3" y="56.4" width="1.6" height="1" fill="#b4b4b4" opacity="0.8"/>
<rect x="587.5" y="56.6" width="1.6" height="1" fill="#b4b4b4" opacity="0.8"/>
<rect x="590.1" y="66.1" width="1.6" height="1" fill="#b4b4b4" opacity="0.8"/>
<rect x="586.3" y="65.5" width="1.6" height="1" fill="#b4b4b4" opacity="0.8"/>
<rect x="586.7" y="68.7" width="1.6" height="1" fill="#b4b4b4" opacity="0.8"/>
<rect x="587.2" y="68.9" width="1.6" height="1" fill="#b4b4b4" opacity="0.8"/>
<rect x="589.3" y="69.7" width="1.6" height="1" fill="#b4b4b4" opacity="0.8"/>
<rect x="590.0" y="73.3" width="1.6" height="1" fill="#b4b4b4" opacity="0.8"/>
<rect x="590.1" y="74.5" width="1.6" height="1" fill="#b4b4b4" opacity="0.8"/>
<rect x="588.3" y="76.9" width="1.6" height="1" fill="#b4b4b4" opacity="0.8"/>
<rect x="590.0" y="78.5" width="1.6" height="1" fill="#b4b4b4" opacity="0.8"/>
<rect x="587.7" y="77.6" width="1.6" height="1" fill="#b4b4b4" opacity="0.8"/>
<rect x="590.3" y="77.5" width="1.6" height="1" fill="#b4b4b4" opacity="0.8"/>
<rect x="587.2" y="79.6" width="1.6" height="1" fill="#b4b4b4" opacity="0.8"/>
<rect x="589.6" y="81.6" width="1.6" height="1" fill="#b4b4b4" opacity="0.8"/>
<rect x="589.6" y="82.4" width="1.6" height="1" fill="#b4b4b4" opacity="0.8"/>
<rect x="590.1" y="84.4" width="1.6" height="1" fill="#b4b4b4" opacity="0.8"/>
<rect x="589.9" y="84.5" width="1.6" height="1" fill="#b4b4b4" opacity="0.8"/>
<rect x="589.2" y="86.8" width="1.6" height="1" fill="#b4b4b4" opacity="0.8"/>
<rect x="586.9" y="85.7" width="1.6" height="1" fill="#b4b4b4" opacity="0.8"/>
<rect x="590.1" y="90.2" width="1.6" height="1" fill="#b4b4b4" opacity="0.8"/>
<rect x="586.8" y="90.1" width="1.6" height="1" fill="#b4b4b4" opacity="0.8"/>
<rect x="613.5" y="61.4" width="1.6" height="1" fill="#b4b4b4" opacity="0.8"/>
<rect x="611.4" y="61.5" width="1.6" height="1" fill="#b4b4b4" opacity="0.8"/>
<rect x="611.9" y="90.1" width="1.6" height="1" fill="#b4b4b4" opacity="0.8"/>
<rect x="614.5" y="90.1" width="1.6" height="1" fill="#b4b4b4" opacity="0.8"/>
<rect x="612.1" y="66.0" width="1.6" height="1" fill="#b4b4b4" opacity="0.8"/>
<rect x="611.4" y="65.5" width="1.6" height="1" fill="#b4b4b4" opacity="0.8"/>
<rect x="611.0" y="68.8" width="1.6" height="1" fill="#b4b4b4" opacity="0.8"/>
<rect x="611.8" y="69.9" width="1.6" height="1" fill="#b4b4b4" opacity="0.8"/>
<rect x="611.8" y="73.6" width="1.6" height="1" fill="#b4b4b4" opacity="0.8"/>
<rect x="613.2" y="72.7" width="1.6" height="1" fill="#b4b4b4" opacity="0.8"/>
<rect x="614.4" y="73.0" width="1.6" height="1" fill="#b4b4b4" opacity="0.8"/>
<rect x="613.3" y="78.7" width="1.6" height="1" fill="#b4b4b4" opacity="0.8"/>
<rect x="613.8" y="76.5" width="1.6" height="1" fill="#b4b4b4" opacity="0.8"/>
<rect x="611.4" y="80.2" width="1.6" height="1" fill="#b4b4b4" opacity="0.8"/>
<rect x="612.9" y="81.6" width="1.6" height="1" fill="#b4b4b4" opacity="0.8"/>
<rect x="612.8" y="84.4" width="1.6" height="1" fill="#b4b4b4" opacity="0.8"/>
<rect x="613.9" y="83.4" width="1.6" height="1" fill="#b4b4b4" opacity="0.8"/>
<rect x="612.2" y="82.6" width="1.6" height="1" fill="#b4b4b4" opacity="0.8"/>
<rect x="614.2" y="84.4" width="1.6" height="1" fill="#b4b4b4" opacity="0.8"/>
<rect x="639.2" y="47.6" width="1.6" height="1" fill="#b4b4b4" opacity="0.8"/>
<rect x="638.2" y="48.5" width="1.6" height="1" fill="#b4b4b4" opacity="0.8"/>
<rect x="638.6" y="94.7" width="1.6" height="1" fill="#b4b4b4" opacity="0.8"/>
<rect x="638.7" y="94.3" width="1.6" height="1" fill="#b4b4b4" opacity="0.8"/>
<rect x="636.5" y="50.1" width="1.6" height="1" fill="#b4b4b4" opacity="0.8"/>
<rect x="638.0" y="54.0" width="1.6" height="1" fill="#b4b4b4" opacity="0.8"/>
<rect x="637.0" y="54.3" width="1.6" height="1" fill="#b4b4b4" opacity="0.8"/>
<rect x="638.3" y="56.6" width="1.6" height="1" fill="#b4b4b4" opacity="0.8"/>
<rect x="637.3" y="66.3" width="1.6" height="1" fill="#b4b4b4" opacity="0.8"/>
<rect x="636.1" y="68.4" width="1.6" height="1" fill="#b4b4b4" opacity="0.8"/>
<rect x="639.8" y="69.3" width="1.6" height="1" fill="#b4b4b4" opacity="0.8"/>
<rect x="639.5" y="73.3" width="1.6" height="1" fill="#b4b4b4" opacity="0.8"/>
<rect x="637.8" y="73.9" width="1.6" height="1" fill="#b4b4b4" opacity="0.8"/>
<rect x="638.9" y="74.3" width="1.6" height="1" fill="#b4b4b4" opacity="0.8"/>
<rect x="639.5" y="77.8" width="1.6" height="1" fill="#b4b4b4" opacity="0.8"/>
<rect x="638.7" y="77.8" width="1.6" height="1" fill="#b4b4b4" opacity="0.8"/>
<rect x="637.0" y="78.2" width="1.6" height="1" fill="#b4b4b4" opacity="0.8"/>
<rect x="637.9" y="79.9" width="1.6" height="1" fill="#b4b4b4" opacity="0.8"/>
<rect x="636.4" y="80.0" width="1.6" height="1" fill="#b4b4b4" opacity="0.8"/>
<rect x="637.5" y="80.6" width="1.6" height="1" fill="#b4b4b4" opacity="0.8"/>
<rect x="636.5" y="80.1" width="1.6" height="1" fill="#b4b4b4" opacity="0.8"/>
<rect x="638.2" y="82.7" width="1.6" height="1" fill="#b4b4b4" opacity="0.8"/>
<rect x="638.9" y="84.5" width="1.6" height="1" fill="#b4b4b4" opacity="0.8"/>
<rect x="638.2" y="86.5" width="1.6" height="1" fill="#b4b4b4" opacity="0.8"/>
<rect x="638.1" y="85.8" width="1.6" height="1" fill="#b4b4b4" opacity="0.8"/>
<rect x="663.2" y="49.3" width="1.6" height="1" fill="#b4b4b4" opacity="0.8"/>
<rect x="662.7" y="48.2" width="1.6" height="1" fill="#b4b4b4" opacity="0.8"/>
<rect x="663.0" y="95.0" width="1.6" height="1" fill="#b4b4b4" opacity="0.8"/>
<rect x="661.1" y="94.7" width="1.6" height="1" fill="#b4b4b4" opacity="0.8"/>
<rect x="661.7" y="50.5" width="1.6" height="1" fill="#b4b4b4" opacity="0.8"/>
<rect x="661.9" y="49.4" width="1.6" height="1" fill="#b4b4b4" opacity="0.8"/>
<rect x="661.4" y="53.7" width="1.6" height="1" fill="#b4b4b4" opacity="0.8"/>
<rect x="662.7" y="56.9" width="1.6" height="1" fill="#b4b4b4" opacity="0.8"/>
<rect x="664.3" y="72.3" width="1.6" height="1" fill="#b4b4b4" opacity="0.8"/>
<rect x="663.2" y="73.2" width="1.6" height="1" fill="#b4b4b4" opacity="0.8"/>
<rect x="663.8" y="76.7" width="1.6" height="1" fill="#b4b4b4" opacity="0.8"/>
<rect x="662.7" y="76.5" width="1.6" height="1" fill="#b4b4b4" opacity="0.8"/>
<rect x="660.5" y="76.7" width="1.6" height="1" fill="#b4b4b4" opacity="0.8"/>
<rect x="663.5" y="87.3" width="1.6" height="1" fill="#b4b4b4" opacity="0.8"/>
<rect x="664.2" y="86.8" width="1.6" height="1" fill="#b4b4b4" opacity="0.8"/>
<rect x="663.0" y="87.1" width="1.6" height="1" fill="#b4b4b4" opacity="0.8"/>
<rect x="662.3" y="88.6" width="1.6" height="1" fill="#b4b4b4" opacity="0.8"/>
<rect x="662.0" y="89.7" width="1.6" height="1" fill="#b4b4b4" opacity="0.8"/>
<rect x="661.1" y="89.5" width="1.6" height="1" fill="#b4b4b4" opacity="0.8"/>
<rect x="660.6" y="92.7" width="1.6" height="1" fill="#b4b4b4" opacity="0.8"/>
<rect x="663.4" y="92.7" width="1.6" height="1" fill="#b4b4b4" opacity="0.8"/>
</svg>
</body></html>
